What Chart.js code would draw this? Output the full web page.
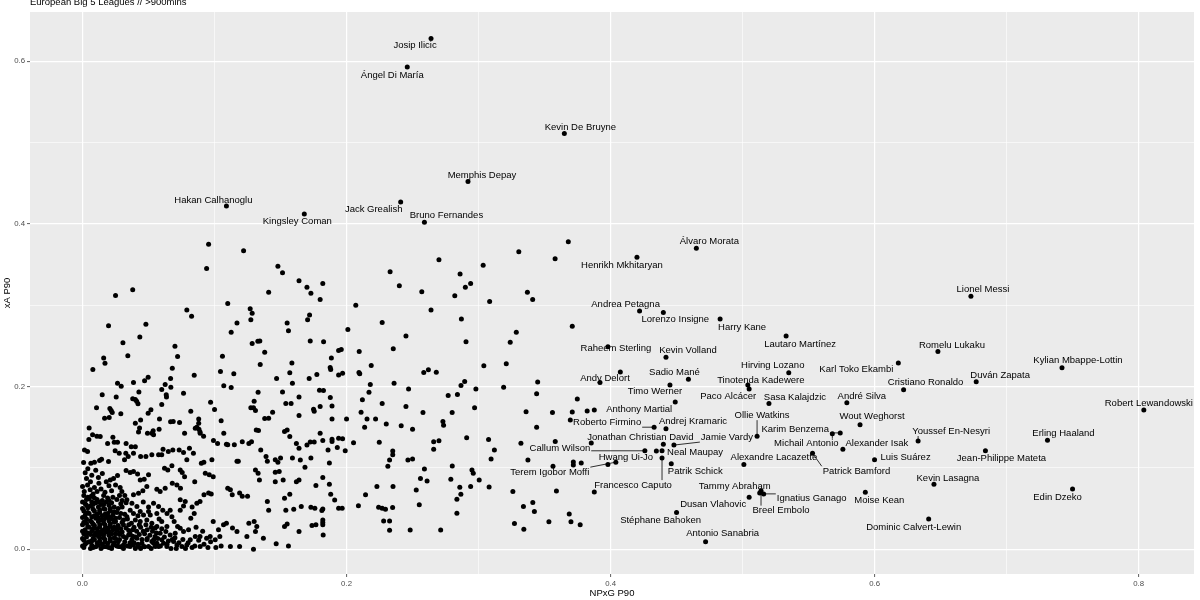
<!DOCTYPE html>
<html lang="en">
<head>
  <meta charset="UTF-8">
  <title>NPxG vs xA - Big 5 Leagues</title>
  <script src="https://cdn.jsdelivr.net/npm/chart.js"></script>
  <style>
    body { margin: 0; background: #fff; }
    canvas { display: block; }
  </style>
</head>
<body>
  <canvas id="grafico" width="1200" height="600"></canvas>

  <script>
    // Players with a name label
    const playerNames = [
      'Josip Ilicic', 'Ángel Di María', 'Kevin De Bruyne', 'Memphis Depay', 'Hakan Calhanoglu',
      'Kingsley Coman', 'Jack Grealish', 'Bruno Fernandes', 'Álvaro Morata', 'Henrikh Mkhitaryan',
      'Andrea Petagna', 'Lorenzo Insigne', 'Harry Kane', 'Lautaro Martínez', 'Raheem Sterling',
      'Kevin Volland', 'Sadio Mané', 'Andy Delort', 'Hirving Lozano', 'Karl Toko Ekambi',
      'Romelu Lukaku', 'Lionel Messi', 'Kylian Mbappe-Lottin', 'Duván Zapata', 'Cristiano Ronaldo',
      'Robert Lewandowski', 'Tinotenda Kadewere', 'Paco Alcácer', 'Timo Werner', 'Sasa Kalajdzic',
      'André Silva', 'Anthony Martial', 'Ollie Watkins', 'Wout Weghorst', 'Karim Benzema',
      'Michail Antonio', 'Alexander Isak', 'Luis Suárez', 'Youssef En-Nesyri', 'Erling Haaland',
      'Jean-Philippe Mateta', 'Patrick Bamford', 'Alexandre Lacazette', 'Kevin Lasagna', 'Moise Kean',
      'Edin Dzeko', 'Dominic Calvert-Lewin', 'Tammy Abraham', 'Ignatius Ganago', 'Breel Embolo',
      'Dusan Vlahovic', 'Stéphane Bahoken', 'Antonio Sanabria', 'Francesco Caputo', 'Patrik Schick',
      'Neal Maupay', 'Hwang Ui-Jo', 'Terem Igobor Moffi', 'Callum Wilson', 'Jonathan Christian David',
      'Jamie Vardy', 'Roberto Firmino', 'Andrej Kramaric'
    ];
    const playerNpxg = [
      0.264, 0.246, 0.365, 0.292, 0.109,
      0.168, 0.241, 0.259, 0.465, 0.420,
      0.422, 0.440, 0.483, 0.533, 0.398,
      0.442, 0.459, 0.392, 0.535, 0.618,
      0.648, 0.673, 0.742, 0.677, 0.622,
      0.804, 0.504, 0.505, 0.445, 0.520,
      0.579, 0.449, 0.511, 0.589, 0.574,
      0.568, 0.576, 0.600, 0.633, 0.731,
      0.684, 0.553, 0.501, 0.645, 0.593,
      0.750, 0.641, 0.513, 0.516, 0.514,
      0.505, 0.450, 0.472, 0.439, 0.446,
      0.439, 0.398, 0.404, 0.426, 0.440,
      0.448, 0.433, 0.442
    ];
    const playerXa = [
      0.628, 0.593, 0.511, 0.452, 0.422,
      0.412, 0.427, 0.402, 0.370, 0.359,
      0.293, 0.291, 0.283, 0.262, 0.249,
      0.236, 0.209, 0.205, 0.217, 0.229,
      0.243, 0.311, 0.223, 0.206, 0.196,
      0.171, 0.202, 0.197, 0.202, 0.179,
      0.180, 0.181, 0.139, 0.153, 0.143,
      0.142, 0.123, 0.110, 0.133, 0.134,
      0.121, 0.118, 0.104, 0.080, 0.070,
      0.074, 0.037, 0.069, 0.068, 0.072,
      0.064, 0.045, 0.009, 0.112, 0.105,
      0.121, 0.104, 0.107, 0.121, 0.129,
      0.128, 0.150, 0.148
    ];

    // All other players (NPxG P90, xA P90)
    const otherPoints = [
      [0.0955,0.375],[0.122,0.367],[0.094,0.345],[0.148,0.348],[0.1515,0.340],[0.164,0.330],[0.038,0.319],[0.025,0.312],
      [0.141,0.316],[0.079,0.294],[0.0826,0.2865],[0.110,0.302],[0.127,0.2955],[0.1285,0.290],[0.1275,0.282],[0.0197,0.2746],
      [0.048,0.2766],[0.117,0.278],[0.155,0.278],[0.156,0.2685],[0.1126,0.2668],[0.0434,0.261],[0.0306,0.2537],[0.1285,0.2529],
      [0.1328,0.2557],[0.1343,0.2561],[0.070,0.2496],[0.0343,0.238],[0.138,0.242],[0.072,0.2369],[0.106,0.2373],[0.016,0.235],
      [0.017,0.2287],[0.1346,0.227],[0.1586,0.229],[0.068,0.2225],[0.0078,0.221],[0.1045,0.2184],[0.1146,0.2156],[0.157,0.217],
      [0.0846,0.2139],[0.0497,0.2115],[0.047,0.207],[0.0667,0.210],[0.0386,0.205],[0.0265,0.204],[0.0293,0.2004],[0.159,0.204],
      [0.147,0.2098],[0.0626,0.2025],[0.107,0.201],[0.1126,0.1988],[0.0669,0.1992],[0.060,0.1963],[0.0634,0.1898],[0.0636,0.187],
      [0.0427,0.1934],[0.0765,0.1918],[0.1515,0.1934],[0.0149,0.190],[0.0255,0.187],[0.164,0.187],[0.038,0.185],[0.040,0.184],
      [0.041,0.182],[0.042,0.1787],[0.133,0.193],[0.154,0.179],[0.158,0.179],[0.060,0.178],[0.1295,0.174],[0.131,0.1705],
      [0.1275,0.174],[0.130,0.182],[0.0106,0.174],[0.0207,0.173],[0.0217,0.1705],[0.0225,0.168],[0.029,0.1664],[0.0518,0.1713],
      [0.0497,0.1672],[0.097,0.1807],[0.100,0.1717],[0.082,0.1697],[0.144,0.1684],[0.164,0.1643],[0.0583,0.160],[0.044,0.159],
      [0.0167,0.161],[0.0202,0.162],[0.088,0.160],[0.105,0.158],[0.138,0.1607],[0.141,0.161],
      [0.0866,0.150],[0.089,0.144],[0.088,0.155],[0.005,0.149],[0.0048,0.135],[0.0076,0.1406],[0.0109,0.139],[0.0134,0.1385],
      [0.0015,0.122],[0.0038,0.120],[0.0008,0.1066],[0.0063,0.1057],[0.009,0.107],[0.0129,0.109],[0.0144,0.1107],[0.0197,0.1078],
      [0.019,0.130],[0.024,0.1316],[0.0265,0.1316],[0.023,0.1377],[0.0247,0.121],[0.0278,0.118],[0.0318,0.110],[0.0328,0.118],
      [0.033,0.130],[0.0369,0.126],[0.040,0.126],[0.040,0.155],[0.0432,0.149],[0.0424,0.144],[0.0492,0.1426],[0.0525,0.1426],
      [0.0535,0.1455],[0.0538,0.1406],[0.058,0.1475],[0.0667,0.1566],[0.0687,0.157],[0.0735,0.1557],[0.0773,0.1426],[0.0854,0.1488],
      [0.0882,0.1475],[0.0891,0.1426],[0.0917,0.139],[0.081,0.124],[0.084,0.118],[0.079,0.110],[0.0732,0.122],[0.0765,0.119],
      [0.061,0.123],[0.065,0.120],[0.0684,0.122],[0.0576,0.116],[0.060,0.116],[0.044,0.114],[0.048,0.114],[0.0525,0.116],
      [0.0346,0.114],[0.0386,0.118],[0.090,0.1057],[0.0919,0.107],[0.098,0.110],[0.0992,0.1336],[0.1023,0.130],[0.107,0.1426],
      [0.109,0.129],[0.110,0.1283],[0.115,0.1283],[0.117,0.108],[0.118,0.108],[0.121,0.132],[0.126,0.130],[0.128,0.132],
      [0.1316,0.1467],[0.1333,0.146],[0.135,0.122],[0.146,0.110],[0.150,0.112],[0.148,0.107],[0.153,0.1447],[0.155,0.1467],
      [0.157,0.1385],[0.159,0.112],[0.164,0.124],[0.162,0.130],
      [0.000,0.077],[0.0038,0.079],[0.0058,0.073],[0.0013,0.071],[0.0066,0.065],[0.011,0.071],[0.0124,0.081],[0.018,0.083],
      [0.021,0.085],[0.0235,0.087],[0.0265,0.0906],[0.033,0.0967],[0.0361,0.0943],[0.0386,0.0955],[0.0417,0.0926],[0.0437,0.085],
      [0.0467,0.086],[0.050,0.0914],[0.0621,0.0996],[0.0646,0.0975],[0.0677,0.1025],[0.074,0.0975],[0.0755,0.0943],[0.0773,0.089],
      [0.085,0.083],[0.093,0.0934],[0.096,0.0914],[0.099,0.089],[0.068,0.081],[0.0715,0.079],[0.0742,0.075],[0.0563,0.0738],
      [0.0588,0.071],[0.0626,0.075],[0.0386,0.0668],[0.0424,0.0689],[0.0457,0.072],[0.0487,0.077],[0.025,0.079],[0.0285,0.0758],
      [0.0298,0.071],[0.110,0.075],[0.112,0.073],[0.1134,0.0668],[0.119,0.069],[0.121,0.065],[0.125,0.065],[0.131,0.0975],
      [0.133,0.0934],[0.134,0.085],[0.139,0.114],[0.140,0.108],[0.140,0.0586],[0.141,0.048],[0.146,0.0947],[0.149,0.0955],
      [0.146,0.083],[0.153,0.0627],[0.157,0.0676],[0.154,0.048],[0.160,0.049],[0.162,0.083],[0.164,0.085],[0.152,0.085],
      [0.109,0.032],[0.1136,0.026],[0.1068,0.030],[0.126,0.032],[0.130,0.034],[0.132,0.028],[0.131,0.0217],[0.117,0.0217],
      [0.1245,0.0156],[0.103,0.0238],[0.104,0.0156],[0.1005,0.0115],[0.0967,0.0156],[0.094,0.0135],[0.089,0.0156],[0.0891,0.0033],
      [0.112,0.0033],[0.119,0.0033],[0.1295,0.000],[0.1467,0.0066],[0.156,0.004],[0.153,0.028],[0.155,0.031],[0.164,0.0217],
      [0.137,0.0135],[0.0854,0.0156],[0.0816,0.0115],[0.079,0.0053],[0.0753,0.0033],[0.0715,0.0053],[0.069,0.0094],[0.082,0.038],
      [0.0846,0.044],[0.083,0.052],[0.0866,0.0566],[0.089,0.0586],[0.092,0.0668],[0.0955,0.069],[0.0975,0.068],[0.074,0.048],
      [0.0765,0.053],[0.074,0.0607],[0.0778,0.0586],[0.0664,0.048],[0.064,0.044],[0.0677,0.040],[0.0694,0.034],[0.0538,0.0566],
      [0.0576,0.0525],[0.0608,0.048],[0.0563,0.044],[0.0513,0.042],[0.0412,0.0525],[0.0437,0.0463],[0.0462,0.042],[0.050,0.0463],
      [0.0336,0.0607],[0.0374,0.0566],[0.0361,0.048],[0.0386,0.044],[0.0336,0.040],[0.031,0.036],[0.0437,0.034],[0.0487,0.036],
      [0.0525,0.032],[0.0563,0.028],[0.060,0.034],[0.0639,0.028],[0.026,0.026],[0.0285,0.0197],[0.031,0.0156],[0.0349,0.0176],
      [0.0374,0.0115],[0.0412,0.0135],[0.045,0.0074],[0.0487,0.0115],[0.0525,0.0094],[0.055,0.0156],[0.0588,0.0197],[0.0273,0.0033],
      [0.031,0.0053],[0.036,0.0033],[0.0386,0.0053],[0.0424,0.0033],[0.0462,0.0033],[0.050,0.0033],[0.0538,0.0074],[0.0639,0.0033],
      [0.0614,0.0074],[0.0601,0.0115],[0.0576,0.0033],[0.0551,0.0033],[0.0563,0.0074],[0.0765,0.0217],[0.0803,0.0238],[0.074,0.0258],
      [0.0702,0.0197],[0.0664,0.0176],[0.0631,0.0217],
      [0.001,0.002],[0.002,0.006],[0.001,0.011],[0.003,0.015],[0.001,0.019],[0.002,0.024],[0.004,0.028],[0.001,0.033],
      [0.003,0.037],[0.002,0.042],[0.001,0.047],[0.004,0.051],[0.002,0.056],[0.003,0.061],[0.001,0.066],[0.003,0.087],
      [0.002,0.094],[0.004,0.099],[0.006,0.001],[0.007,0.005],[0.005,0.009],[0.008,0.013],[0.006,0.018],[0.007,0.022],
      [0.005,0.027],[0.008,0.031],[0.006,0.035],[0.007,0.040],[0.005,0.044],[0.008,0.049],[0.006,0.053],[0.007,0.058],
      [0.005,0.062],[0.008,0.068],[0.006,0.083],[0.007,0.091],[0.010,0.003],[0.011,0.008],[0.009,0.012],[0.012,0.016],
      [0.010,0.020],[0.011,0.025],[0.009,0.029],[0.012,0.034],[0.010,0.038],[0.011,0.043],[0.009,0.047],[0.012,0.052],
      [0.010,0.057],[0.011,0.061],[0.009,0.076],[0.012,0.088],[0.010,0.097],[0.014,0.001],[0.015,0.006],[0.013,0.010],
      [0.016,0.014],[0.014,0.019],[0.015,0.023],[0.013,0.027],[0.016,0.032],[0.014,0.036],[0.015,0.041],[0.013,0.045],
      [0.016,0.050],[0.014,0.055],[0.015,0.060],[0.016,0.066],[0.014,0.074],[0.015,0.093],[0.018,0.003],[0.019,0.007],
      [0.017,0.012],[0.020,0.017],[0.018,0.021],[0.019,0.026],[0.017,0.030],[0.020,0.035],[0.018,0.039],[0.019,0.044],
      [0.017,0.049],[0.020,0.054],[0.018,0.058],[0.019,0.063],[0.017,0.070],[0.020,0.078],[0.022,0.001],[0.023,0.005],
      [0.021,0.010],[0.024,0.014],[0.022,0.019],[0.023,0.024],[0.021,0.028],[0.024,0.033],[0.022,0.037],[0.023,0.042],
      [0.021,0.047],[0.024,0.052],[0.022,0.057],[0.023,0.064],[0.022,0.072],[0.026,0.004],[0.027,0.009],[0.025,0.013],
      [0.028,0.018],[0.026,0.023],[0.027,0.029],[0.025,0.034],[0.028,0.039],[0.026,0.045],[0.027,0.050],[0.029,0.056],
      [0.026,0.061],[0.028,0.066],[0.031,0.001],[0.032,0.009],[0.030,0.021],[0.033,0.026],[0.031,0.030],[0.032,0.043],
      [0.030,0.052],[0.033,0.057],[0.032,0.066],[0.036,0.008],[0.038,0.016],[0.035,0.023],[0.039,0.027],[0.037,0.032],
      [0.040,0.036],[0.041,0.022],[0.043,0.018],[0.044,0.027],[0.042,0.041],[0.045,0.012],[0.040,0.001],[0.044,0.001],
      [0.047,0.019],[0.049,0.024],[0.051,0.017],[0.053,0.022],[0.048,0.030],[0.052,0.001],[0.055,0.026],[0.057,0.013],
      [0.059,0.004],[0.058,0.037],[0.050,0.052],[0.046,0.058],[0.062,0.015],[0.065,0.010],[0.067,0.001],[0.070,0.014],
      [0.072,0.028],[0.071,0.001],[0.078,0.001],[0.076,0.012],[0.083,0.002],[0.086,0.027],[0.091,0.022],[0.095,0.002],
      [0.099,0.034],[0.105,0.004],
      [0.000,0.004],[0.000,0.013],[0.000,0.022],[0.000,0.030],[0.000,0.039],[0.000,0.050],[0.000,0.058],[0.003,0.008],
      [0.004,0.020],[0.003,0.032],[0.004,0.045],[0.003,0.054],[0.004,0.064],[0.008,0.002],[0.007,0.010],[0.009,0.017],
      [0.008,0.025],[0.007,0.033],[0.009,0.041],[0.008,0.055],[0.009,0.063],[0.012,0.005],[0.013,0.014],[0.012,0.021],
      [0.013,0.030],[0.012,0.039],[0.013,0.048],[0.012,0.058],[0.016,0.003],[0.017,0.009],[0.016,0.018],[0.017,0.025],
      [0.016,0.036],[0.017,0.043],[0.016,0.055],[0.020,0.002],[0.021,0.013],[0.020,0.022],[0.021,0.031],[0.020,0.040],
      [0.021,0.050],[0.020,0.060],[0.024,0.008],[0.025,0.019],[0.024,0.027],[0.025,0.038],[0.024,0.046],[0.029,0.003],
      [0.028,0.012],[0.029,0.025],[0.030,0.033],[0.029,0.044],[0.030,0.060],[0.034,0.004],[0.033,0.014],[0.035,0.030],
      [0.034,0.037],[0.036,0.019],[0.039,0.008],[0.040,0.015],[0.038,0.024],[0.042,0.006],[0.043,0.030],[0.046,0.022],
      [0.047,0.003],[0.049,0.013],[0.052,0.027],[0.054,0.012],[0.056,0.020],[0.060,0.025],[0.064,0.006],[0.068,0.012],
      [0.073,0.008],[0.080,0.008],[0.085,0.004],[0.088,0.011],[0.092,0.006],[0.097,0.009],[0.101,0.002],
      [0.368,0.378],[0.3305,0.3656],[0.358,0.357],[0.270,0.356],[0.3035,0.349],[0.233,0.341],[0.286,0.3385],[0.240,0.324],
      [0.290,0.322],[0.294,0.3266],[0.257,0.3164],[0.282,0.3115],[0.3084,0.3045],[0.337,0.316],[0.341,0.307],[0.170,0.322],
      [0.173,0.3148],[0.180,0.307],[0.182,0.3266],[0.207,0.300],[0.264,0.294],[0.172,0.288],[0.1705,0.282],[0.287,0.283],
      [0.227,0.2787],[0.371,0.274],[0.201,0.270],[0.245,0.262],[0.3286,0.2668],[0.324,0.2545],[0.1725,0.256],[0.1826,0.255],
      [0.2905,0.255],[0.2354,0.2463],[0.194,0.2443],[0.196,0.2455],[0.2096,0.243],[0.1885,0.2352],[0.1876,0.2234],[0.188,0.221],
      [0.2187,0.2258],[0.304,0.2254],[0.321,0.228],[0.1717,0.2098],[0.1775,0.2148],[0.194,0.2143],[0.197,0.2164],[0.2094,0.2172],
      [0.210,0.2156],[0.2585,0.2172],[0.262,0.2205],[0.268,0.2176],[0.236,0.204],[0.218,0.2025],[0.2895,0.2061],[0.2867,0.2012],
      [0.3448,0.2057],[0.247,0.197],[0.319,0.199],[0.344,0.191],[0.277,0.189],[0.284,0.1902],[0.298,0.197],[0.1795,0.1955],
      [0.1825,0.195],[0.1877,0.1865],[0.217,0.193],[0.212,0.1836],[0.227,0.179],[0.175,0.172],[0.1755,0.1697],[0.180,0.1754],
      [0.189,0.1762],[0.245,0.1754],[0.297,0.174],[0.211,0.1684],[0.2579,0.168],[0.280,0.168],[0.336,0.1689],[0.356,0.168],
      [0.189,0.160],[0.200,0.160],[0.2155,0.160],[0.222,0.160],
      [0.2137,0.150],[0.2301,0.154],[0.2414,0.1517],[0.250,0.1475],[0.273,0.157],[0.2735,0.1524],[0.180,0.1426],[0.182,0.1337],
      [0.1755,0.1317],[0.1725,0.1317],[0.170,0.128],[0.189,0.1352],[0.189,0.1324],[0.194,0.1365],[0.197,0.1357],[0.193,0.125],
      [0.186,0.122],[0.199,0.121],[0.2053,0.131],[0.187,0.106],[0.173,0.112],[0.165,0.1098],[0.1685,0.1008],[0.2248,0.1315],
      [0.235,0.1208],[0.235,0.116],[0.2326,0.1098],[0.2313,0.102],[0.2465,0.1098],[0.250,0.111],[0.266,0.132],[0.270,0.1334],
      [0.266,0.123],[0.291,0.137],[0.3076,0.135],[0.312,0.122],[0.3095,0.111],[0.2801,0.1023],[0.259,0.0987],[0.256,0.0869],
      [0.261,0.0839],[0.279,0.086],[0.295,0.0975],[0.296,0.0934],[0.3005,0.0852],[0.2858,0.0762],[0.2866,0.0676],[0.2836,0.0615],
      [0.2836,0.0443],[0.294,0.077],[0.308,0.0766],[0.2528,0.0729],[0.2551,0.0545],[0.223,0.077],[0.2352,0.077],[0.2144,0.0668],
      [0.209,0.0533],[0.2243,0.0517],[0.227,0.0504],[0.2295,0.0492],[0.2349,0.0512],[0.2281,0.0348],[0.2326,0.0348],[0.2326,0.0233],
      [0.2482,0.0237],[0.2713,0.0237],[0.182,0.0881],[0.1768,0.0783],[0.187,0.0799],[0.188,0.0676],[0.191,0.0606],[0.176,0.0504],
      [0.1813,0.0475],[0.182,0.0495],[0.1657,0.0524],[0.1730,0.0516],[0.194,0.0504],[0.1967,0.0504],[0.182,0.036],[0.182,0.0328],
      [0.182,0.030],[0.1738,0.0291],[0.1768,0.030],[0.1823,0.0176],[0.326,0.0709],[0.334,0.0524],[0.3411,0.0573],[0.3423,0.0463],
      [0.3272,0.0315],[0.3343,0.0246],[0.3533,0.0336],[0.3687,0.0434],[0.370,0.0336],[0.377,0.030],[0.359,0.0717],[0.3374,0.1098],
      [0.3321,0.1303],[0.3440,0.150],[0.3581,0.1323],[0.3564,0.1021],
      [0.3748,0.1847],[0.371,0.1687],[0.3823,0.170],[0.3877,0.1712],[0.3695,0.1589],[0.3854,0.1306],[0.3718,0.1072],[0.3718,0.1035],
      [0.3778,0.106],[0.3877,0.0704],[0.4347,0.1208],[0.4074,0.218]
    ];

    const xTicks = [0, 0.1, 0.2, 0.3, 0.4, 0.5, 0.6, 0.7, 0.8];
    const yTicks = [0, 0.1, 0.2, 0.3, 0.4, 0.5, 0.6];

    // label placement (pixels from the point) as ggrepel left them
    const labelNudge = {
      'Josip Ilicic': [-16, 7], 'Ángel Di María': [-15, 8], 'Kevin De Bruyne': [16, -6], 'Memphis Depay': [14, -6],
      'Hakan Calhanoglu': [-13, -6], 'Kingsley Coman': [-7, 7], 'Jack Grealish': [-27, 7], 'Bruno Fernandes': [22, -7],
      'Álvaro Morata': [13, -7], 'Henrikh Mkhitaryan': [-15, 8], 'Andrea Petagna': [-14, -7], 'Lorenzo Insigne': [12, 7],
      'Harry Kane': [22, 8], 'Lautaro Martínez': [14, 8], 'Raheem Sterling': [8, 2], 'Kevin Volland': [22, -7],
      'Sadio Mané': [-14, -7], 'Andy Delort': [5, -4], 'Hirving Lozano': [-16, -7], 'Karl Toko Ekambi': [-42, 6],
      'Romelu Lukaku': [14, -6], 'Lionel Messi': [12, -7], 'Kylian Mbappe-Lottin': [16, -7], 'Duván Zapata': [24, -6],
      'Cristiano Ronaldo': [22, -7], 'Robert Lewandowski': [5, -7], 'Tinotenda Kadewere': [13, -5], 'Paco Alcácer': [-21, 7],
      'Timo Werner': [-15, 6], 'Sasa Kalajdzic': [26, -6], 'André Silva': [15, -6], 'Anthony Martial': [-36, 7],
      'Ollie Watkins': [5, -21], 'Wout Weghorst': [12, -8], 'Karim Benzema': [-45, -4], 'Michail Antonio': [-26, 10],
      'Alexander Isak': [34, -6], 'Luis Suárez': [31, -2], 'Youssef En-Nesyri': [33, -10], 'Erling Haaland': [16, -7],
      'Jean-Philippe Mateta': [16, 8], 'Patrick Bamford': [44, 18], 'Alexandre Lacazette': [30, -7], 'Kevin Lasagna': [14, -6],
      'Moise Kean': [14, 8], 'Edin Dzeko': [-15, 8], 'Dominic Calvert-Lewin': [-15, 8], 'Tammy Abraham': [-25, -7],
      'Ignatius Ganago': [48, 4], 'Breel Embolo': [20, 20], 'Dusan Vlahovic': [-36, 7], 'Stéphane Bahoken': [-16, 8],
      'Antonio Sanabria': [17, -8], 'Francesco Caputo': [-29, 27], 'Patrik Schick': [24, 8], 'Neal Maupay': [33, 2],
      'Hwang Ui-Jo': [18, -7], 'Terem Igobor Moffi': [-66, 10], 'Callum Wilson': [-85, -2], 'Jonathan Christian David': [-23, -7],
      'Jamie Vardy': [53, -8], 'Roberto Firmino': [-47, -5], 'Andrej Kramaric': [27, -7]
    };
    const withSegment = [
      'Ollie Watkins', 'Karim Benzema', 'Michail Antonio', 'Youssef En-Nesyri', 'Patrick Bamford',
      'Ignatius Ganago', 'Breel Embolo', 'Francesco Caputo', 'Terem Igobor Moffi', 'Callum Wilson',
      'Jamie Vardy', 'Roberto Firmino'
    ];

    const FONT = "'Liberation Sans', Arial, Helvetica, sans-serif";
    const isMajor = v => Math.abs(Math.round(v * 10)) % 2 === 0;

    const pontos = otherPoints.map(p => ({ x: p[0], y: p[1] }))
      .concat(playerNames.map((n, i) => ({ x: playerNpxg[i], y: playerXa[i] })));

    // fundo cinza do painel + título
    const painel = {
      id: 'painel',
      beforeDraw(chart) {
        const { ctx, chartArea: a } = chart;
        ctx.save();
        ctx.fillStyle = '#EBEBEB';
        ctx.fillRect(a.left, a.top, a.right - a.left, a.bottom - a.top);
        ctx.fillStyle = '#000';
        ctx.font = '9.5px ' + FONT;
        ctx.textAlign = 'left';
        ctx.textBaseline = 'alphabetic';
        ctx.fillText('European Big 5 Leagues // >900mins', a.left, 5);
        ctx.restore();
      }
    };

    // nomes dos jogadores com linhas-guia
    const rotulos = {
      id: 'rotulos',
      afterDatasetsDraw(chart) {
        const { ctx, scales } = chart;
        ctx.save();
        ctx.font = '9.5px ' + FONT;
        ctx.textAlign = 'center';
        ctx.textBaseline = 'middle';
        ctx.strokeStyle = '#000';
        ctx.lineWidth = 0.8;
        playerNames.forEach((nome, i) => {
          const px = scales.x.getPixelForValue(playerNpxg[i]);
          const py = scales.y.getPixelForValue(playerXa[i]);
          const [dx, dy] = labelNudge[nome] || [0, -8];
          const cx = px + dx, cy = py + dy;
          if (withSegment.includes(nome)) {
            const w = ctx.measureText(nome).width / 2 + 1;
            const h = 5;
            const ex = Math.min(Math.max(px, cx - w), cx + w);
            const ey = Math.min(Math.max(py, cy - h), cy + h);
            ctx.beginPath();
            ctx.moveTo(px, py);
            ctx.lineTo(ex, ey);
            ctx.stroke();
          }
          ctx.fillStyle = '#000';
          ctx.fillText(nome, cx, cy);
        });
        ctx.restore();
      }
    };

    const eixo = (ticks, fit) => ({
      type: 'linear',
      afterBuildTicks: s => { s.ticks = ticks.map(v => ({ value: v })); },
      afterFit: fit,
      border: { display: false },
      grid: {
        color: '#FFFFFF',
        lineWidth: c => (c.tick && isMajor(c.tick.value)) ? 1.2 : 0.6,
        tickColor: c => (c.tick && isMajor(c.tick.value)) ? '#333333' : 'rgba(0,0,0,0)',
        tickLength: 3,
        tickWidth: 0.8
      },
      ticks: {
        autoSkip: false,
        maxRotation: 0,
        padding: 2,
        color: '#4D4D4D',
        font: { family: FONT, size: 7.8 },
        callback: v => isMajor(v) ? v.toFixed(1) : ''
      }
    });

    const xScale = eixo(xTicks, s => { s.height = 26; });
    xScale.min = -0.0398;
    xScale.max = 0.842;
    xScale.title = { display: true, text: 'NPxG P90', color: '#000', font: { family: FONT, size: 9.5 }, padding: { top: 0, bottom: 1 } };

    const yScale = eixo(yTicks, s => { s.width = 30; });
    yScale.min = -0.0305;
    yScale.max = 0.6605;
    yScale.title = { display: true, text: 'xA P90', color: '#000', font: { family: FONT, size: 9.5 }, padding: { top: 2, bottom: 0 } };

    new Chart(document.getElementById('grafico').getContext('2d'), {
      type: 'scatter',
      data: {
        datasets: [{
          data: pontos,
          backgroundColor: '#000',
          borderWidth: 0,
          pointRadius: 2.5,
          pointHoverRadius: 2.5
        }]
      },
      options: {
        responsive: false,
        animation: false,
        devicePixelRatio: 1,
        layout: { padding: { left: 0, right: 6, top: 12, bottom: 0 } },
        plugins: { legend: { display: false }, tooltip: { enabled: false } },
        scales: { x: xScale, y: yScale }
      },
      plugins: [painel, rotulos]
    });
  </script>
</body>
</html>
